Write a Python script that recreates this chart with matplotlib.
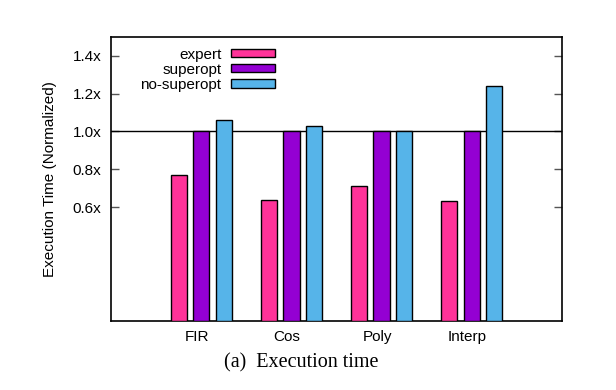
import matplotlib
matplotlib.use("Agg")
import matplotlib.pyplot as plt
import numpy as np

categories = ["FIR", "Cos", "Poly", "Interp"]
series_names = ["expert", "superopt", "no-superopt"]
expert = [0.77, 0.64, 0.71, 0.63]
superopt = [1.00, 1.00, 1.00, 1.00]
no_superopt = [1.06, 1.03, 1.00, 1.24]
ytick_vals = [0.6, 0.8, 1.0, 1.2, 1.4]
ytick_labels = ["0.6x", "0.8x", "1.0x", "1.2x", "1.4x"]
colors = ["#ff3399", "#9400d3", "#56b4e9"]

plt.rcParams['font.family'] = ['Liberation Sans', 'DejaVu Sans']
FS = 11

fig = plt.figure(figsize=(6.16, 3.9), dpi=100)
ax = fig.add_axes([111/616, 1-320.7/390, (562-111)/616, (320.7-36.7)/390])

x = np.arange(len(categories))
width = 0.18
offsets = [-0.25, 0.0, 0.25]
handles = []
for vals, off, c, name in zip([expert, superopt, no_superopt], offsets, colors, series_names):
    b = ax.bar(x + off, vals, width, color=c, edgecolor="black", linewidth=1.0, label=name, zorder=3)
    handles.append(b)

ax.axhline(1.0, color="black", linewidth=1.0, zorder=2)

ax.set_xlim(-1, 4)
ax.set_ylim(0, 1.5)
ax.set_xticks(x - 0.05)
ax.set_xticklabels(categories, fontsize=FS)
ax.tick_params(axis='x', length=0, pad=7)
ax.set_yticks(ytick_vals)
ax.set_yticklabels(ytick_labels, fontsize=FS)
ax.tick_params(axis='y', direction='in', length=6, width=1.0, color='#555555',
               right=True, pad=7)
for s in ax.spines.values():
    s.set_linewidth(1.2)
ax.set_ylabel("Execution Time (Normalized)", fontsize=FS, labelpad=11)

leg = ax.legend(handles=handles, labels=series_names, loc='upper right',
                bbox_to_anchor=((275-111)/451, (320.7-47.5)/284), frameon=False, fontsize=FS,
                markerfirst=False, handlelength=2.9, handleheight=0.45,
                labelspacing=0.08, handletextpad=0.6, borderaxespad=0.0, borderpad=0.0)
for t in leg.get_texts():
    t.set_ha('right')
leg._legend_box.align = "right"

fig.text(301/616, 1-363/390, "(a)  Execution time", ha='center', va='center',
         fontsize=14.5, family=['Liberation Serif'])

fig.savefig("out.png", dpi=100)
